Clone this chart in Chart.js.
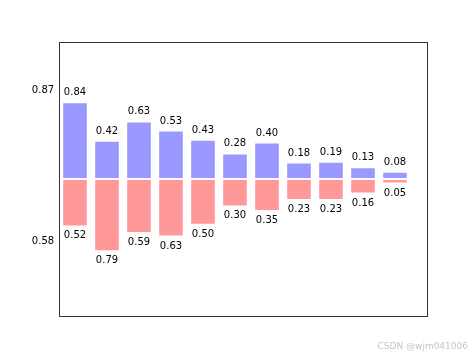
<!DOCTYPE html>
<html>
<head>
<meta charset="utf-8">
<script src="https://cdn.jsdelivr.net/npm/chart.js@4"></script>
<style>
  html, body { margin: 0; padding: 0; background: #fff; }
  #wrap { width: 474px; height: 355px; }
</style>
</head>
<body>
<div id="wrap"><canvas id="barChart" width="474" height="355"></canvas></div>
<script>
// positions along x (first one sits left of the visible range)
const xPos = [-1, 0, 1, 2, 3, 4, 5, 6, 7, 8, 9, 10];
const upper = [0.87, 0.84, 0.42, 0.63, 0.53, 0.43, 0.28, 0.40, 0.18, 0.19, 0.13, 0.08];
const lower = [0.58, 0.52, 0.79, 0.59, 0.63, 0.50, 0.30, 0.35, 0.23, 0.23, 0.16, 0.05];
const xRange = [-0.5, 11];
const yRange = [-1.5, 1.5];

// box around the plot + value labels + watermark
const extras = {
  id: "extras",
  afterDraw(chart) {
    const { ctx, chartArea: a, scales } = chart;
    const x = scales.x, y = scales.y;
    ctx.save();
    ctx.strokeStyle = "#333";
    ctx.lineWidth = 1;
    ctx.strokeRect(Math.round(a.left) + 0.5, Math.round(a.top) + 0.5,
      Math.round(a.right - a.left), Math.round(a.bottom - a.top));

    ctx.fillStyle = "#000";
    ctx.font = "10px 'DejaVu Sans'";
    ctx.textAlign = "center";
    ctx.textBaseline = "alphabetic";
    xPos.forEach((v, i) => {
      const px = x.getPixelForValue(v);
      ctx.fillText(upper[i].toFixed(2), px, y.getPixelForValue(upper[i] + 0.05) - 2.4);
      ctx.fillText(lower[i].toFixed(2), px, y.getPixelForValue(-lower[i] - 0.05) + 7.4);
    });

    ctx.fillStyle = "#c4c4c4";
    ctx.font = "9px 'DejaVu Sans'";
    ctx.textAlign = "right";
    ctx.fillText("CSDN @wjm041006", 468, 349);
    ctx.restore();
  },
};

new Chart(document.getElementById("barChart").getContext("2d"), {
  type: "bar",
  data: {
    datasets: [
      {
        data: xPos.map((v, i) => ({ x: v, y: upper[i] })),
        backgroundColor: "#9999ff",
        borderColor: "#ffffff",
        borderWidth: 1,
        borderSkipped: false,
        grouped: false,
      },
      {
        data: xPos.map((v, i) => ({ x: v, y: -lower[i] })),
        backgroundColor: "#ff9999",
        borderColor: "#ffffff",
        borderWidth: 1,
        borderSkipped: false,
        grouped: false,
      },
    ],
  },
  options: {
    responsive: false,
    animation: false,
    devicePixelRatio: 1,
    barPercentage: 0.8,
    categoryPercentage: 1.0,
    layout: { padding: { left: 59, top: 42, right: 47, bottom: 39 } },
    plugins: { legend: { display: false }, tooltip: { enabled: false } },
    scales: {
      x: { type: "linear", offset: false, min: xRange[0], max: xRange[1], display: false },
      y: { min: yRange[0], max: yRange[1], display: false },
    },
  },
  plugins: [extras],
});
</script>
</body>
</html>
